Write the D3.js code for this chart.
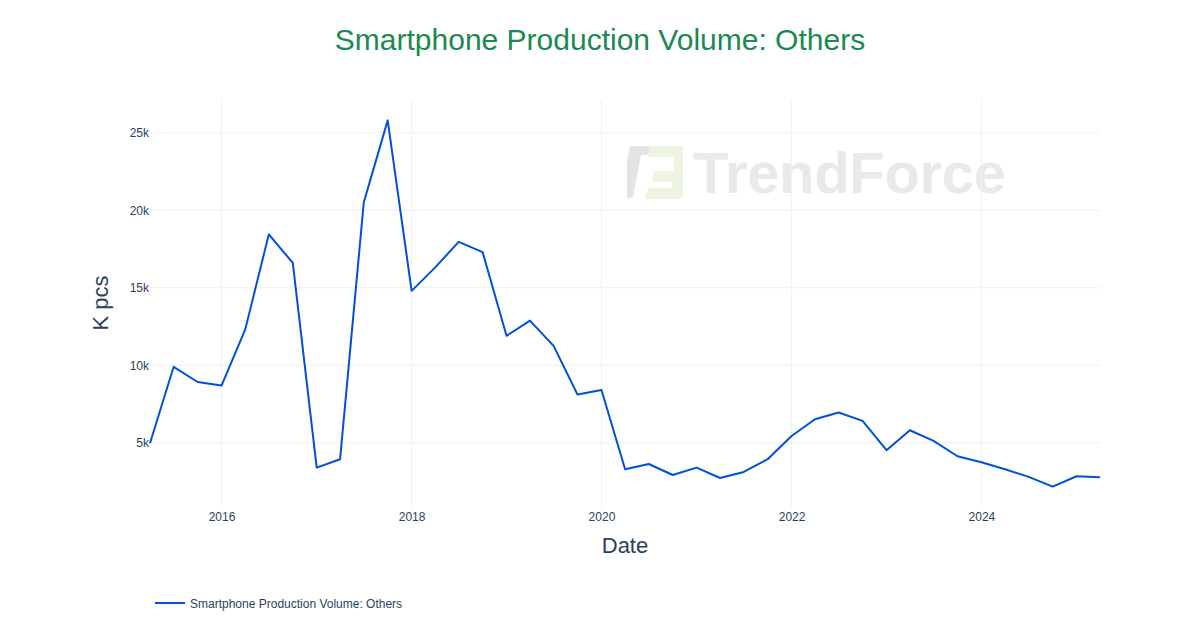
<!DOCTYPE html>
<html>
<head>
<meta charset="utf-8">
<script src="https://cdn.jsdelivr.net/npm/d3@7"></script>
<style>
  html, body { margin: 0; padding: 0; background: #fff; }
  svg { display: block; font-family: "Liberation Sans", Arial, sans-serif; }
</style>
</head>
<body>
<svg id="chart" width="1200" height="630"></svg>
<script>
  "use strict";

  // quarterly values, K pcs, from 2015-04 to 2025-04
  const startDate = "2015-04-01";
  const values = [
    4.97, 9.9, 8.92, 8.69, 12.3, 18.45, 16.6, 3.4, 3.94, 20.5,
    25.8, 14.8, 16.3, 17.96, 17.3, 11.9, 12.88, 11.25, 8.11, 8.41,
    3.29, 3.63, 2.92, 3.4, 2.73, 3.12, 3.94, 5.44, 6.52, 6.95,
    6.41, 4.52, 5.81, 5.12, 4.13, 3.74, 3.29, 2.8, 2.17, 2.84,
    2.77
  ];
  const yTicks = [5, 10, 15, 20, 25];
  const xTickYears = [2016, 2018, 2020, 2022, 2024];
  const seriesName = "Smartphone Production Volume: Others";

  const width = 1200,
    height = 630,
    paddingLeft = 150,
    paddingRight = 100,
    paddingTop = 100,
    paddingBottom = 123;

  const parse = d3.timeParse("%Y-%m-%d");
  const t0 = parse(startDate);
  const items = values.map(function (v, i) {
    return { date: d3.timeMonth.offset(t0, i * 3), avg: v };
  });

  let svg = d3.select("#chart");

  let minAvg = d3.min(values),
    maxAvg = d3.max(values),
    pad = (maxAvg - minAvg) / 18; // plotly-ish 5% padding

  let scaleX = d3.scaleTime()
    .domain(d3.extent(items, function (d) { return d.date; }))
    .range([paddingLeft, width - paddingRight]);

  let scaleY = d3.scaleLinear()
    .domain([minAvg - pad, maxAvg + pad])
    .range([height - paddingBottom, paddingTop]);

  // watermark
  let wm = svg.append("g").attr("class", "watermark");
  wm.append("path")
    .attr("d", "M630,146 L660,146 L656,155 L641,155 L633,197 L627,199 L627,160 Z")
    .attr("fill", "#e4e4e4");
  wm.append("path")
    .attr("d", "M650,146 L683,146 L683,199 L645,199 L648,188 L672,188 L673,182 L652,182 L654,171 L674,171 L674,157 L648,157 Z")
    .attr("fill", "#eef4e2");
  wm.append("text")
    .attr("x", 693)
    .attr("y", 193)
    .attr("font-size", 58)
    .attr("font-weight", "bold")
    .attr("fill", "#e9e9e9")
    .attr("textLength", 313)
    .text("TrendForce");

  // grid
  let grid = svg.append("g").attr("class", "grid");
  grid.selectAll("line.gx")
    .data(xTickYears)
    .enter()
    .append("line")
    .attr("x1", function (d) { return scaleX(new Date(d, 0, 1)); })
    .attr("x2", function (d) { return scaleX(new Date(d, 0, 1)); })
    .attr("y1", paddingTop)
    .attr("y2", height - paddingBottom)
    .attr("stroke", "#f0f0f2")
    .attr("stroke-width", 1);
  grid.selectAll("line.gy")
    .data(yTicks)
    .enter()
    .append("line")
    .attr("x1", paddingLeft)
    .attr("x2", width - paddingRight)
    .attr("y1", function (d) { return scaleY(d); })
    .attr("y2", function (d) { return scaleY(d); })
    .attr("stroke", "#f0f0f2")
    .attr("stroke-width", 1);

  // axes
  let axisX = d3.axisBottom(scaleX)
    .tickValues(xTickYears.map(function (y) { return new Date(y, 0, 1); }))
    .tickFormat(d3.timeFormat("%Y"))
    .tickSize(0)
    .tickPadding(5);
  let gx = svg.append("g")
    .attr("class", "axis-x")
    .attr("transform", "translate(0," + (height - paddingBottom) + ")")
    .call(axisX);

  let axisY = d3.axisLeft(scaleY)
    .tickValues(yTicks)
    .tickFormat(function (d) { return d + "k"; })
    .tickSize(0)
    .tickPadding(1);
  let gy = svg.append("g")
    .attr("class", "axis-y")
    .attr("transform", "translate(" + paddingLeft + ",0)")
    .call(axisY);

  [gx, gy].forEach(function (g) {
    g.select(".domain").remove();
    g.selectAll("text")
      .attr("fill", "#2a3f5f")
      .attr("font-size", 12)
      .attr("font-family", "Liberation Sans, Arial, sans-serif");
  });

  // line
  let line = d3.line()
    .x(function (d) { return scaleX(d.date); })
    .y(function (d) { return scaleY(d.avg); });

  svg.append("path")
    .datum(items)
    .attr("d", line)
    .attr("fill", "none")
    .attr("stroke", "#0050d8")
    .attr("stroke-width", 2)
    .attr("stroke-linejoin", "round");

  // titles
  svg.append("text")
    .attr("x", 600)
    .attr("y", 50)
    .attr("text-anchor", "middle")
    .attr("font-size", 30)
    .attr("fill", "#1a8a50")
    .text(seriesName);

  svg.append("text")
    .attr("x", 625)
    .attr("y", 553)
    .attr("text-anchor", "middle")
    .attr("font-size", 22)
    .attr("fill", "#2a3f5f")
    .text("Date");

  svg.append("text")
    .attr("transform", "translate(108,303) rotate(-90)")
    .attr("text-anchor", "middle")
    .attr("font-size", 22)
    .attr("fill", "#2a3f5f")
    .text("K pcs");

  // legend
  let legend = svg.append("g").attr("transform", "translate(155,603)");
  legend.append("line")
    .attr("x1", 0).attr("x2", 30)
    .attr("y1", 0).attr("y2", 0)
    .attr("stroke", "#0050d8")
    .attr("stroke-width", 2);
  legend.append("text")
    .attr("x", 35)
    .attr("y", 4.5)
    .attr("font-size", 12)
    .attr("fill", "#2a3f5f")
    .text(seriesName);
</script>
</body>
</html>
